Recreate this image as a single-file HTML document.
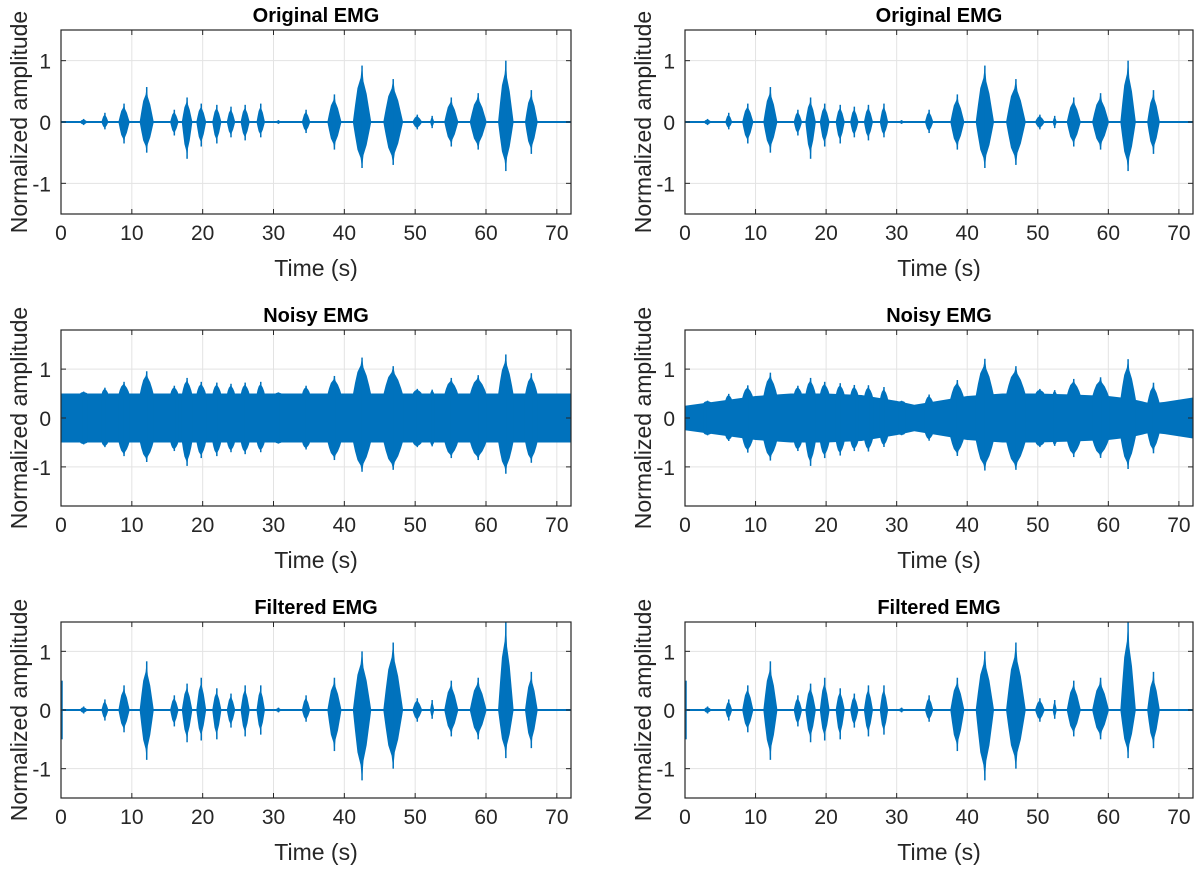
<!DOCTYPE html>
<html><head><meta charset="utf-8">
<style>
html,body{margin:0;padding:0;background:#fff;}
svg{display:block;font-family:"Liberation Sans",Arial,sans-serif;}
</style></head>
<body>
<svg id="fig" width="1200" height="872" viewBox="0 0 1200 872" xmlns="http://www.w3.org/2000/svg"></svg>
<script>
// ---- data ----
const burstTimes = [3.2,6.2,8.9,12.1,16.0,17.8,19.8,22.0,24.0,26.0,28.2,30.7,34.6,38.6,42.5,46.9,50.3,52.4,55.1,58.9,62.8,66.4];
const burstWidths = [1.2,1.0,1.6,2.0,1.2,1.5,1.4,1.3,1.2,1.3,1.2,1.0,1.2,2.0,2.6,2.8,1.4,0.6,2.0,2.4,2.2,1.8];
const origPos = [0.05,0.15,0.3,0.57,0.2,0.4,0.3,0.28,0.25,0.28,0.3,0.03,0.2,0.45,0.92,0.7,0.12,0.1,0.4,0.47,1.0,0.52];
const origNeg = [-0.05,-0.12,-0.35,-0.5,-0.22,-0.6,-0.4,-0.35,-0.25,-0.3,-0.25,-0.03,-0.18,-0.45,-0.75,-0.7,-0.12,-0.1,-0.4,-0.45,-0.8,-0.52];
const filtPos = [0.06,0.18,0.42,0.83,0.25,0.45,0.55,0.37,0.28,0.42,0.42,0.04,0.25,0.55,1.0,1.15,0.2,0.17,0.5,0.55,1.5,0.65];
const filtNeg = [-0.06,-0.18,-0.38,-0.85,-0.28,-0.55,-0.52,-0.5,-0.3,-0.45,-0.42,-0.04,-0.2,-0.7,-1.2,-1.0,-0.2,-0.15,-0.45,-0.5,-0.82,-0.65];
const noiseTimesL = [0,72];
const noiseLevelL = [0.5,0.5];
const noiseTimesR = [0,5,10,15,20,25,30,32.5,35,40,45,50,55,60,63,66,68,72];
const noiseLevelR = [0.25,0.35,0.45,0.5,0.5,0.47,0.35,0.27,0.33,0.45,0.5,0.5,0.48,0.45,0.4,0.3,0.33,0.42];
const xTicks = [0,10,20,30,40,50,60,70];
const yTicks = [-1,0,1];
const titles = ["Original EMG","Noisy EMG","Filtered EMG"];

const NS="http://www.w3.org/2000/svg";
const svg=document.getElementById('fig');
const C="#0072BD";
function mk(tag,attrs,parent){const e=document.createElementNS(NS,tag);for(const k in attrs)e.setAttribute(k,attrs[k]);(parent||svg).appendChild(e);return e;}

const cols=[{l:61,r:571},{l:685,r:1193}];
const rows=[{t:30,b:214,lim:1.5},{t:330,b:506,lim:1.8},{t:622,b:798,lim:1.5}];

function interp(ts,vs,t){for(let i=0;i<ts.length-1;i++){if(t>=ts[i]&&t<=ts[i+1]){return vs[i]+(vs[i+1]-vs[i])*(t-ts[i])/(ts[i+1]-ts[i]);}}return vs[vs.length-1];}

function panel(ci,ri){
  const c=cols[ci],r=rows[ri];
  const g=mk('g',{});
  
  
  const X=t=>c.l+(t/72)*(c.r-c.l);
  const Y=v=>(r.t+r.b)/2-v*((r.b-r.t)/2)/r.lim;
  xTicks.forEach(t=>{const l=mk('line',{x1:X(t),x2:X(t),y1:r.t,y2:r.b,stroke:'#e3e3e3','stroke-width':1},g);});
  yTicks.forEach(v=>{const l=mk('line',{x1:c.l,x2:c.r,y1:Y(v),y2:Y(v),stroke:'#e3e3e3','stroke-width':1},g);});
  if(ri===1){
    const ts=ci?noiseTimesR:noiseTimesL, vs=ci?noiseLevelR:noiseLevelL;
    let top=[],bot=[];
    for(let i=0;i<ts.length;i++){top.push(X(ts[i])+','+Y(vs[i]));bot.unshift(X(ts[i])+','+Y(-vs[i]));}
    const p=mk('polygon',{points:top.concat(bot).join(' '),fill:C},g);
    
  }
  const bl=mk('line',{x1:c.l,x2:c.r,y1:Y(0),y2:Y(0),stroke:C,'stroke-width':2},g);
  
  const P=ri===2?filtPos:origPos, N=ri===2?filtNeg:origNeg;
  burstTimes.forEach((t,i)=>{
    const w=burstWidths[i];
    let base=0,scale=1;
    if(ri===1){base=interp(ci?noiseTimesR:noiseTimesL,ci?noiseLevelR:noiseLevelL,t);scale=0.8;}
    const pp=base+P[i]*scale, nn=-base+N[i]*scale;
    const dp=pp-base, dn=nn+base;
    const pts=[[t-w/2,base*0.95],[t-w*0.38,base+dp*0.3],[t-w*0.25,base+dp*0.6],[t-w*0.08,base+dp*0.78],[t,pp],[t+w*0.08,base+dp*0.72],[t+w*0.25,base+dp*0.5],[t+w*0.4,base+dp*0.2],[t+w/2,base*0.95],
      [t+w/2,-base*0.95],[t+w*0.4,-base+dn*0.2],[t+w*0.25,-base+dn*0.5],[t+w*0.08,-base+dn*0.72],[t,nn],[t-w*0.08,-base+dn*0.78],[t-w*0.25,-base+dn*0.6],[t-w*0.38,-base+dn*0.3],[t-w/2,-base*0.95]];
    const poly=mk('polygon',{points:pts.map(q=>X(q[0])+','+Y(q[1])).join(' '),fill:C},g);
    
    const sp=mk('line',{x1:X(t),x2:X(t),y1:Y(pp),y2:Y(nn),stroke:C,'stroke-width':1.5},g);
    
  });
  if(ri===2){const s=mk('line',{x1:X(0)+1,x2:X(0)+1,y1:Y(0.5),y2:Y(-0.5),stroke:C,'stroke-width':1.5},g);}
  const box=mk('rect',{x:c.l,y:r.t,width:c.r-c.l,height:r.b-r.t,fill:'none',stroke:'#262626','stroke-width':1.2},g);
  
  xTicks.forEach(t=>{
    mk('line',{x1:X(t),x2:X(t),y1:r.b,y2:r.b-5,stroke:'#262626'},g);
    mk('line',{x1:X(t),x2:X(t),y1:r.t,y2:r.t+5,stroke:'#262626'},g);
    const tx=mk('text',{x:X(t),y:r.b+26,'text-anchor':'middle','font-size':21,fill:'#262626'},g);
    tx.textContent=t;
  });
  yTicks.forEach(v=>{
    mk('line',{x1:c.l,x2:c.l+5,y1:Y(v),y2:Y(v),stroke:'#262626'},g);
    mk('line',{x1:c.r,x2:c.r-5,y1:Y(v),y2:Y(v),stroke:'#262626'},g);
    const tx=mk('text',{x:c.l-10,y:Y(v)+8,'text-anchor':'end','font-size':21,fill:'#262626'},g);
    tx.textContent=v;
  });
  const xl=mk('text',{x:(c.l+c.r)/2,y:r.b+62,'text-anchor':'middle','font-size':23,fill:'#262626'},g);
  xl.textContent='Time (s)';
  const yc=(r.t+r.b)/2, yx=c.l-34;
  const yl=mk('text',{x:yx,y:yc,'text-anchor':'middle','font-size':23,fill:'#262626',transform:`rotate(-90 ${yx} ${yc})`},g);
  yl.textContent='Normalized amplitude';
  const ti=mk('text',{x:(c.l+c.r)/2,y:r.t-8,'text-anchor':'middle','font-size':20,'font-weight':'bold',fill:'#000'},g);
  ti.textContent=titles[ri];
}
for(let ci=0;ci<2;ci++)for(let ri=0;ri<3;ri++)panel(ci,ri);
</script>
</body></html>
